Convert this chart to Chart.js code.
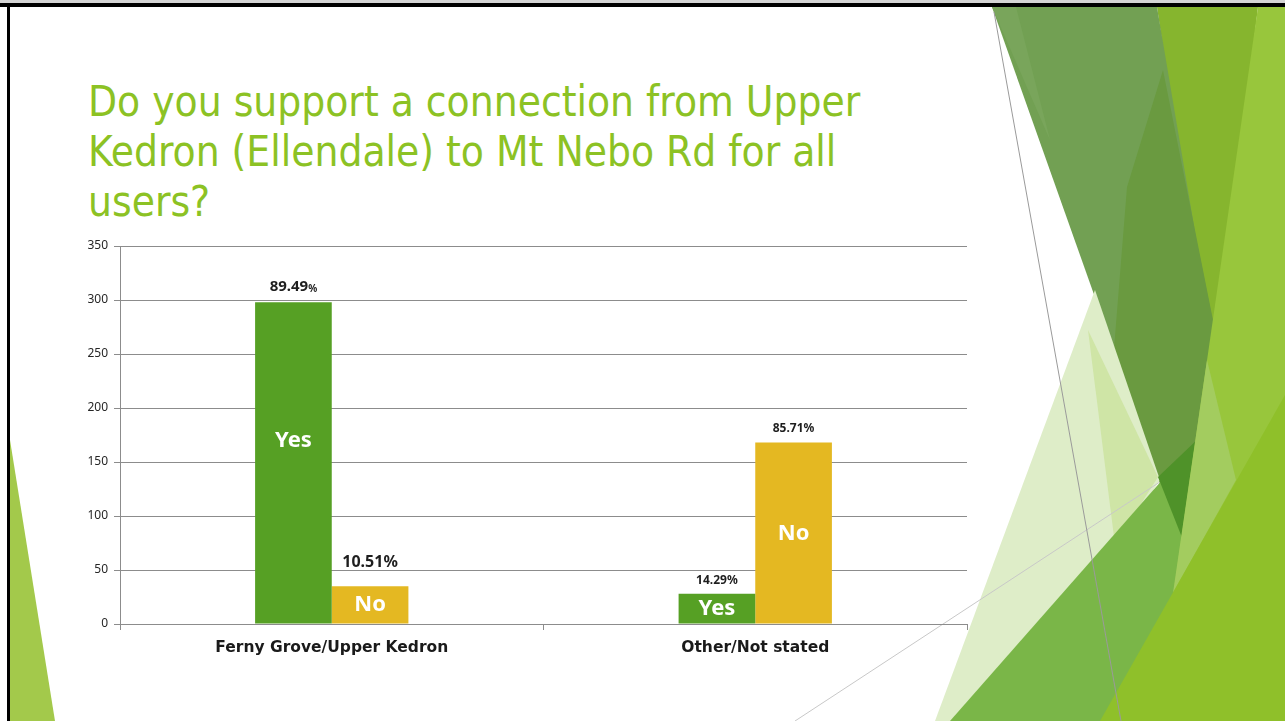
<!DOCTYPE html>
<html>
<head>
<meta charset="utf-8">
<script src="https://cdn.jsdelivr.net/npm/chart.js@4.4.1/dist/chart.umd.min.js"></script>
<style>
  html, body { margin: 0; padding: 0; background: #fff; }
  #slide { position: relative; width: 1285px; height: 721px; overflow: hidden; background: #fff; }
  #deco { position: absolute; left: 0; top: 0; }
  #title {
    position: absolute; left: 88px; top: 77px;
    font-family: "DejaVu Sans Condensed", "DejaVu Sans", sans-serif;
    font-size: 42px; line-height: 50px; color: #8cc224; white-space: nowrap;
  }
  #wrap { position: absolute; left: 0; top: 0; width: 1285px; height: 721px; }
</style>
</head>
<body>
<div id="slide">
  <svg id="deco" width="1285" height="721" viewBox="0 0 1285 721">
    <rect x="0" y="0" width="1285" height="3" fill="#d4d4d4"/>
    <rect x="0" y="3" width="1285" height="4" fill="#000"/>
    <rect x="7" y="3" width="3" height="718" fill="#000"/>
    <polygon points="10,440 10,721 55,721" fill="#a3c94b"/>
    <!-- facet shapes on the right -->
    <polygon points="1157,7 1258,7 1213,390" fill="#86b52e"/>
    <polygon points="992,7 1157,7 1220,380 1180,537" fill="#72a053"/>
    <polygon points="992,7 1016,7 1050,140" fill="#79a55b"/>
    <polygon points="1163,70 1225,380 1180,537 1113,361 1127,187" fill="#6a9a40"/>
    <polygon points="1095,290 1160,480 1000,721 935,721" fill="#deedc8"/>
    <polygon points="1088,330 1158,477 1115,545" fill="#cfe5a6"/>
    <line x1="795" y1="721" x2="1285" y2="400" stroke="#c8c8c8" stroke-width="1"/>
    <polygon points="950,721 1200,437 1260,400 1260,721" fill="#7ab648"/>
    <polygon points="1158,477 1200,437 1210,470 1183,540" fill="#4f9229"/>
    <polygon points="1258,7 1285,7 1285,721 1155,721" fill="#98c63c"/>
    <polygon points="1207,360 1236,480 1173,593" fill="#a3cc5f"/>
    <polygon points="1100,721 1285,395 1285,721" fill="#8fc02a"/>
    <line x1="994" y1="12" x2="1121" y2="721" stroke="#9a9a9a" stroke-width="1"/>
  </svg>
  <div id="title">Do you support a connection from Upper<br>Kedron (Ellendale) to Mt Nebo Rd for all<br>users?</div>
  <div id="wrap"><canvas id="chart" width="1285" height="721"></canvas></div>
</div>
<script>
const categories = ["Ferny Grove/Upper Kedron", "Other/Not stated"];
const seriesNames = ["Yes", "No"];
const yesCounts = [298, 28];
const noCounts = [35, 168];
const yMin = 0;
const yMax = 350;
const yStep = 50;

const barColors = ["#56a024", "#e4b822"];
// label styling, indexed [dataset][category]
const pctFont = [[15, 12], [16, 12]];
const pctSignFont = [[10, 12], [16, 12]];
const pctGap = [[15, 13], [24, 14]];
const insideAt = [[0.57, 0.5], [0.5, 0.5]];

const totals = yesCounts.map((v, i) => v + noCounts[i]);

const barLabels = {
  id: "barLabels",
  afterDatasetsDraw(chart) {
    const ctx = chart.ctx;
    ctx.save();
    chart.data.datasets.forEach((ds, di) => {
      const meta = chart.getDatasetMeta(di);
      meta.data.forEach((bar, i) => {
        const v = ds.data[i];
        const pct = (v / totals[i] * 100).toFixed(2);
        // percentage above bar
        const fs = pctFont[di][i];
        const ss = pctSignFont[di][i];
        ctx.textBaseline = "middle";
        ctx.fillStyle = "#1e1e1e";
        ctx.font = "bold " + fs + "px 'Noto Sans'";
        const w1 = ctx.measureText(pct).width;
        ctx.font = "bold " + ss + "px 'Noto Sans'";
        const w2 = ctx.measureText("%").width;
        const x0 = bar.x - (w1 + w2) / 2;
        const y0 = bar.y - pctGap[di][i];
        ctx.textAlign = "left";
        ctx.font = "bold " + fs + "px 'Noto Sans'";
        ctx.fillText(pct, x0, y0);
        ctx.font = "bold " + ss + "px 'Noto Sans'";
        ctx.fillText("%", x0 + w1, y0 + (fs - ss) * 0.3);
        // series name inside bar
        const yScale = chart.scales.y;
        const yi = yScale.getPixelForValue(v * insideAt[di][i]);
        ctx.textAlign = "center";
        ctx.fillStyle = "#ffffff";
        ctx.font = "bold 22px 'Noto Sans'";
        ctx.fillText(seriesNames[di], bar.x, yi);
      });
    });
    ctx.restore();
  }
};

new Chart(document.getElementById("chart"), {
  type: "bar",
  plugins: [barLabels],
  data: {
    labels: categories,
    datasets: [
      { label: seriesNames[0], data: yesCounts, backgroundColor: barColors[0], borderWidth: 0 },
      { label: seriesNames[1], data: noCounts, backgroundColor: barColors[1], borderWidth: 0 }
    ]
  },
  options: {
    responsive: false,
    animation: false,
    layout: { padding: { left: 0, right: 318, top: 246, bottom: 57 } },
    datasets: { bar: { barPercentage: 1, categoryPercentage: 0.362 } },
    plugins: { legend: { display: false }, tooltip: { enabled: false } },
    scales: {
      x: {
        afterFit: (s) => { s.height = 40; },
        grid: { offset: true, drawOnChartArea: false, color: "#8c8c8c", tickLength: 6 },
        border: { color: "#8c8c8c" },
        ticks: { color: "#1a1a1a", padding: 9, font: { family: "DejaVu Sans", size: 15.5, weight: "bold" } }
      },
      y: {
        min: yMin,
        max: yMax,
        afterFit: (s) => { s.width = 120; },
        grid: { color: "#8c8c8c", tickLength: 6 },
        border: { color: "#8c8c8c" },
        ticks: { stepSize: yStep, color: "#262626", padding: 6, font: { family: "Noto Sans", size: 12 } }
      }
    }
  }
});
</script>
</body>
</html>
